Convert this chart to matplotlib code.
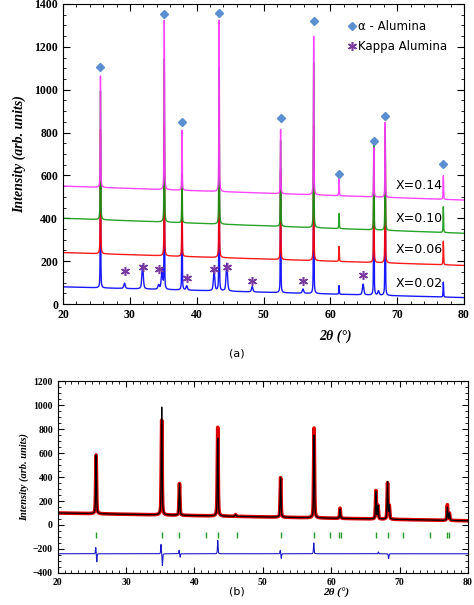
import numpy as np
import matplotlib.pyplot as plt
from matplotlib.ticker import MultipleLocator

# ---------------- data (a) ----------------
samples = ["X=0.02", "X=0.06", "X=0.10", "X=0.14"]
colors = ["#0000ff", "#ff0000", "#119911", "#ff33ff"]
# baseline at 2theta=20 and at 2theta=80
base_start = [80, 240, 400, 550]
base_end = [30, 180, 330, 485]

# alpha alumina reflections (2theta) and peak heights above baseline per sample
alpha_pos = [25.6, 35.15, 37.8, 43.35, 52.55, 57.5, 61.3, 66.5, 68.2, 76.9]
alpha_h = {
    "X=0.02": [560, 550, 470, 680, 560, 690, 40, 580, 600, 70],
    "X=0.06": [580, 610, 330, 720, 420, 630, 70, 500, 580, 110],
    "X=0.10": [600, 760, 230, 730, 400, 770, 70, 420, 480, 120],
    "X=0.14": [520, 790, 280, 800, 300, 740, 80, 230, 350, 110],
}
# kappa alumina reflections seen in X=0.02
kappa_pos = [29.2, 31.9, 34.3, 34.8, 38.5, 42.6, 44.5, 48.3, 55.9, 64.9, 67.2]
kappa_h = [25, 110, 20, 90, 20, 90, 130, 25, 20, 50, 20]

# marker positions
alpha_mark_y = [1105, 1355, 850, 1360, 868, 1320, 608, 760, 875, 655]
kappa_mark_x = [29.2, 31.9, 34.3, 38.5, 42.6, 44.5, 48.3, 55.9, 64.9]
kappa_mark_y = [155, 174, 162, 123, 162, 174, 109, 109, 135]
label_y = [98, 252, 401, 551]

# ---------------- data (b) ----------------
obs_base = [100, 35]
obs_pos = [25.6, 35.2, 37.8, 43.4, 46.0, 52.6, 57.5, 61.3, 66.55, 66.85, 68.25, 68.5, 77.0, 77.3]
calc_h = [490, 900, 265, 650, 15, 330, 690, 75, 230, 110, 310, 110, 110, 60]
obs_h = [490, 790, 265, 740, 15, 330, 750, 85, 235, 110, 300, 110, 130, 60]
bragg_pos = [25.6, 35.2, 37.8, 41.7, 43.4, 46.2, 52.6, 57.5, 59.8, 61.2, 61.4,
             66.6, 68.3, 70.5, 74.4, 76.9, 77.2]
diff_base = -240
diff_pos = [25.55, 25.7, 35.1, 35.3, 37.75, 37.9, 43.4, 52.55, 52.7, 57.45, 66.9, 68.4]
diff_h = [55, -70, 80, -100, 30, -30, 110, 30, -40, 90, 15, -40]


def profile(x, pos, h, w=0.09):
    y = np.zeros_like(x)
    for p, a in zip(pos, h):
        lor = 1 / (1 + ((x - p) / (w / 2)) ** 2)
        gau = np.exp(-np.log(2) * ((x - p) / (w / 2)) ** 2)
        y += a * (0.5 * lor + 0.5 * gau)
    return y


tt = np.arange(20, 80.001, 0.01)

fig = plt.figure(figsize=(4.74, 6.05), dpi=100)
serif = "Liberation Serif"

# ---------------- panel (a) ----------------
ax1 = fig.add_axes([0.133, 0.4975, 0.846, 0.496])
for i, s in enumerate(samples):
    base = np.interp(tt, [20, 80], [base_start[i], base_end[i]])
    y = base + profile(tt, alpha_pos, alpha_h[s])
    if s == "X=0.02":
        y = y + profile(tt, kappa_pos, kappa_h, w=0.25)
    ax1.plot(tt, y, color=colors[i], lw=1.0, alpha=0.9)
    ax1.text(69.7, label_y[i], s, fontsize=9, family="DejaVu Sans",
             va="center", ha="left")

ax1.plot(alpha_pos, alpha_mark_y, ls="none", marker="D", ms=4,
         color="#5b8fcf", label="α - Alumina")
ax1.plot(kappa_mark_x, kappa_mark_y, ls="none", marker=(6, 2, 0), ms=6.5,
         mew=1.1, color="#7b3aa0", label="Kappa Alumina")
ax1.legend(loc="upper right", bbox_to_anchor=(0.975, 0.97), frameon=False,
           fontsize=8.5, handlelength=0.6, handletextpad=0.2,
           labelspacing=0.6, borderaxespad=0.2)

ax1.set_xlim(20, 80)
ax1.set_ylim(0, 1400)
ax1.xaxis.set_major_locator(MultipleLocator(10))
ax1.xaxis.set_minor_locator(MultipleLocator(2))
ax1.yaxis.set_major_locator(MultipleLocator(200))
ax1.yaxis.set_minor_locator(MultipleLocator(50))
ax1.tick_params(which="both", direction="in", top=True, right=True)
ax1.tick_params(which="major", length=5)
ax1.tick_params(which="minor", length=2.5)
for lab in ax1.get_xticklabels() + ax1.get_yticklabels():
    lab.set_family(serif)
    lab.set_fontweight("bold")
    lab.set_fontsize(8.5)
ax1.set_ylabel("Intensity (arb. units)", family=serif, fontweight="bold",
               style="italic", fontsize=10, labelpad=6)
ax1.set_xlabel("2θ (°)", family=serif, fontweight="bold",
               style="italic", fontsize=10, labelpad=1)
ax1.xaxis.set_label_coords(0.68, -0.085)
fig.text(0.5, 0.4165, "(a)", ha="center", va="center", fontsize=8,
         family="DejaVu Sans")

# ---------------- panel (b) ----------------
ax2 = fig.add_axes([0.122, 0.053, 0.865, 0.317])
base = np.interp(tt, [20, 80], obs_base)
obs = base + profile(tt, obs_pos, obs_h, w=0.14)
calc = base + profile(tt, obs_pos, calc_h, w=0.14)
diff = diff_base + profile(tt, diff_pos, diff_h, w=0.1)
ax2.plot(tt, obs, color="#dd0000", lw=2.6)
ax2.plot(tt, calc, color="black", lw=0.9)
ax2.plot(tt, diff, color="#1c1cc8", lw=0.8)
ax2.plot(bragg_pos, [-85] * len(bragg_pos), ls="none", marker="|",
         ms=5, mew=1.0, color="#2a9a2a")

ax2.set_xlim(20, 80)
ax2.set_ylim(-400, 1200)
ax2.xaxis.set_major_locator(MultipleLocator(10))
ax2.xaxis.set_minor_locator(MultipleLocator(1))
ax2.yaxis.set_major_locator(MultipleLocator(200))
ax2.yaxis.set_minor_locator(MultipleLocator(50))
ax2.tick_params(which="both", direction="in", top=True, right=True)
ax2.tick_params(which="major", length=4)
ax2.tick_params(which="minor", length=2)
for lab in ax2.get_xticklabels() + ax2.get_yticklabels():
    lab.set_family(serif)
    lab.set_fontweight("bold")
    lab.set_fontsize(7)
ax2.set_ylabel("Intensity (arb. units)", family=serif, fontweight="bold",
               style="italic", fontsize=7.5, labelpad=3)
ax2.set_xlabel("2θ (°)", family=serif, fontweight="bold",
               style="italic", fontsize=8)
ax2.xaxis.set_label_coords(0.68, -0.08)
fig.text(0.5, 0.0215, "(b)", ha="center", va="center", fontsize=8,
         family="DejaVu Sans")

fig.savefig("out.png", dpi=100)
